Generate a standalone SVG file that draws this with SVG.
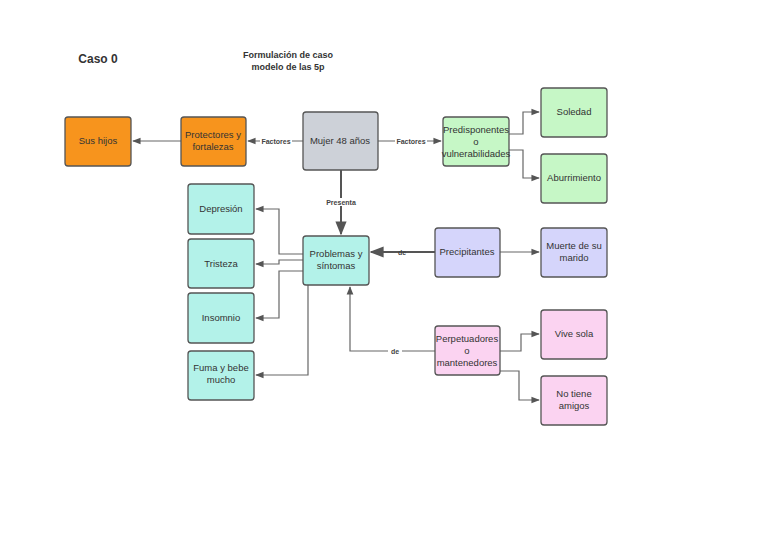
<svg xmlns="http://www.w3.org/2000/svg" width="768" height="543" viewBox="0 0 768 543">
<style>
text{font-family:"Liberation Sans",Arial,sans-serif;font-size:9.5px;fill:#333;text-anchor:middle}
.b{stroke:#555;stroke-width:1.3}
.o{fill:#f7941d}.g{fill:#cdd1d8}.gr{fill:#c6f7c6}.c{fill:#b3f2e9}.p{fill:#d5d5fb}.k{fill:#fbd3f1}
.l{fill:none;stroke:#666;stroke-width:1.2;marker-end:url(#a)}
.t{stroke:#555;stroke-width:2}
.lb{font-size:7px;font-weight:bold;fill:#444}
</style>
<defs><marker id="a" viewBox="0 0 10 10" refX="9" refY="5" markerWidth="7" markerHeight="7" orient="auto"><path d="M0,1 L10,5 L0,9z" fill="#555"/></marker></defs>
<rect width="768" height="543" fill="#fff"/>
<text x="98" y="63" style="font-size:12px;font-weight:bold">Caso 0</text>
<text x="288" y="58" style="font-size:9px;font-weight:bold">Formulación de caso</text>
<text x="288" y="70" style="font-size:9px;font-weight:bold">modelo de las 5p</text>
<g id="connectors">
<path class="l" d="M303,141 H248"/>
<path class="l" d="M181,141 H133"/>
<path class="l" d="M378,141 H441"/>
<path class="l t" d="M341,170 V234"/>
<path class="l t" d="M435,252 H371"/>
<path class="l" d="M500,252 H539"/>
<path class="l" d="M435,351 H350 V287"/>
<path class="l" d="M509,134 H523 V112 H539"/>
<path class="l" d="M509,150 H523 V178 H539"/>
<path class="l" d="M500,351 H521 V334 H539"/>
<path class="l" d="M500,371 H519 V400 H539"/>
<path class="l" d="M303,254 H279 V209 H256"/>
<path class="l" d="M303,260 H279 V264 H256"/>
<path class="l" d="M303,271 H279 V318 H256"/>
<path class="l" d="M308,285 V375 H256"/>
<rect x="260" y="137" width="32" height="8" fill="#fff"/><text class="lb" x="276" y="144">Factores</text>
<rect x="395" y="137" width="32" height="8" fill="#fff"/><text class="lb" x="411" y="144">Factores</text>
<rect x="324" y="198" width="34" height="8" fill="#fff"/><text class="lb" x="341" y="205">Presenta</text>
<text class="lb" x="402" y="255">de</text>
<rect x="388" y="347" width="14" height="8" fill="#fff"/><text class="lb" x="395" y="354">de</text>
</g>
<g id="sushijos"><rect class="b o" x="65" y="117" width="66" height="49" rx="3"/><text x="98" y="144">Sus hijos</text></g>
<g id="protectores"><rect class="b o" x="181" y="117" width="65" height="49" rx="3"/><text x="213" y="138">Protectores y</text><text x="213" y="150">fortalezas</text></g>
<g id="mujer"><rect class="b g" x="303" y="112" width="75" height="58" rx="3"/><text x="340" y="144">Mujer 48 años</text></g>
<g id="predisponentes"><rect class="b gr" x="443" y="117" width="66" height="49" rx="3"/><text x="476" y="133">Predisponentes</text><text x="476" y="145">o</text><text x="476" y="157">vulnerabilidades</text></g>
<g id="soledad"><rect class="b gr" x="541" y="88" width="66" height="49" rx="3"/><text x="574" y="115">Soledad</text></g>
<g id="aburrimiento"><rect class="b gr" x="541" y="154" width="66" height="49" rx="3"/><text x="574" y="181">Aburrimiento</text></g>
<g id="depresion"><rect class="b c" x="188" y="184" width="66" height="50" rx="3"/><text x="221" y="212">Depresión</text></g>
<g id="tristeza"><rect class="b c" x="188" y="239" width="66" height="49" rx="3"/><text x="221" y="267">Tristeza</text></g>
<g id="insomnio"><rect class="b c" x="188" y="293" width="66" height="50" rx="3"/><text x="221" y="321">Insomnio</text></g>
<g id="fuma"><rect class="b c" x="188" y="351" width="66" height="49" rx="3"/><text x="221" y="371">Fuma y bebe</text><text x="221" y="383">mucho</text></g>
<g id="problemas"><rect class="b c" x="303" y="236" width="66" height="49" rx="3"/><text x="336" y="257">Problemas y</text><text x="336" y="269">síntomas</text></g>
<g id="precipitantes"><rect class="b p" x="435" y="228" width="65" height="49" rx="3"/><text x="467" y="255">Precipitantes</text></g>
<g id="muerte"><rect class="b p" x="541" y="228" width="66" height="49" rx="3"/><text x="574" y="249">Muerte de su</text><text x="574" y="261">marido</text></g>
<g id="perpetuadores"><rect class="b k" x="435" y="326" width="65" height="49" rx="3"/><text x="467" y="342">Perpetuadores</text><text x="467" y="354">o</text><text x="467" y="366">mantenedores</text></g>
<g id="vivesola"><rect class="b k" x="541" y="310" width="66" height="49" rx="3"/><text x="574" y="337">Vive sola</text></g>
<g id="noamigos"><rect class="b k" x="541" y="376" width="66" height="49" rx="3"/><text x="574" y="397">No tiene</text><text x="574" y="409">amigos</text></g>
</svg>
